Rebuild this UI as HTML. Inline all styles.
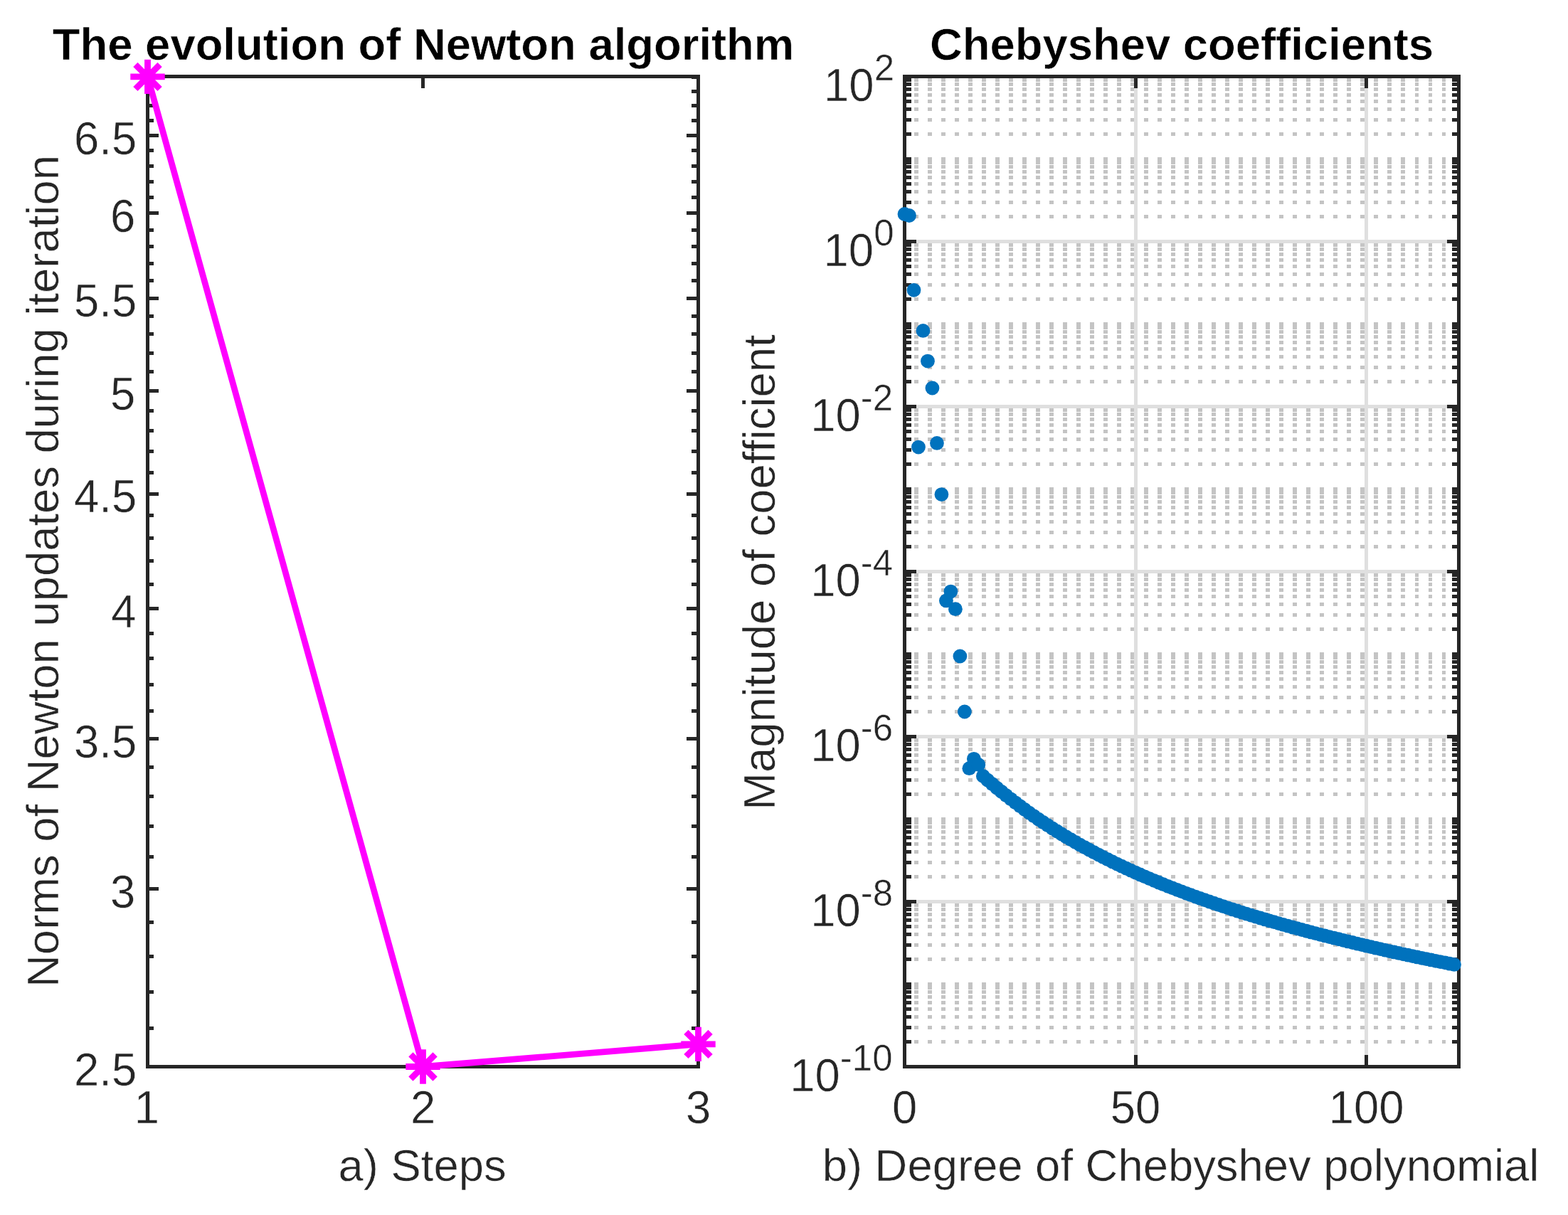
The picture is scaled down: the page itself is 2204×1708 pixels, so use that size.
<!DOCTYPE html>
<html lang="en">
<head>
<meta charset="utf-8">
<title>Newton algorithm and Chebyshev coefficients</title>
<style>
html,body{margin:0;padding:0;background:#fff;}
svg{display:block;}
</style>
</head>
<body>
<svg width="2204" height="1708" viewBox="0 0 2204 1708" font-family="'Liberation Sans', Arial, Helvetica, sans-serif">
<rect x="0" y="0" width="2204" height="1708" fill="#ffffff"/>
<g id="left-axes" shape-rendering="crispEdges">
<rect x="210" y="1497" width="13" height="5" fill="#262626"/>
<rect x="965" y="1497" width="14" height="5" fill="#262626"/>
<rect x="210" y="1247" width="13" height="5" fill="#262626"/>
<rect x="965" y="1247" width="14" height="5" fill="#262626"/>
<rect x="210" y="1036" width="13" height="5" fill="#262626"/>
<rect x="965" y="1036" width="14" height="5" fill="#262626"/>
<rect x="210" y="853" width="13" height="5" fill="#262626"/>
<rect x="965" y="853" width="14" height="5" fill="#262626"/>
<rect x="210" y="692" width="13" height="5" fill="#262626"/>
<rect x="965" y="692" width="14" height="5" fill="#262626"/>
<rect x="210" y="547" width="13" height="5" fill="#262626"/>
<rect x="965" y="547" width="14" height="5" fill="#262626"/>
<rect x="210" y="417" width="13" height="5" fill="#262626"/>
<rect x="965" y="417" width="14" height="5" fill="#262626"/>
<rect x="210" y="297" width="13" height="5" fill="#262626"/>
<rect x="965" y="297" width="14" height="5" fill="#262626"/>
<rect x="210" y="188" width="13" height="5" fill="#262626"/>
<rect x="965" y="188" width="14" height="5" fill="#262626"/>
<rect x="210" y="1443" width="6" height="5" fill="#262626"/>
<rect x="972" y="1443" width="7" height="5" fill="#262626"/>
<rect x="210" y="1392" width="6" height="5" fill="#262626"/>
<rect x="972" y="1392" width="7" height="5" fill="#262626"/>
<rect x="210" y="1342" width="6" height="5" fill="#262626"/>
<rect x="972" y="1342" width="7" height="5" fill="#262626"/>
<rect x="210" y="1294" width="6" height="5" fill="#262626"/>
<rect x="972" y="1294" width="7" height="5" fill="#262626"/>
<rect x="210" y="1202" width="6" height="5" fill="#262626"/>
<rect x="972" y="1202" width="7" height="5" fill="#262626"/>
<rect x="210" y="1159" width="6" height="5" fill="#262626"/>
<rect x="972" y="1159" width="7" height="5" fill="#262626"/>
<rect x="210" y="1117" width="6" height="5" fill="#262626"/>
<rect x="972" y="1117" width="7" height="5" fill="#262626"/>
<rect x="210" y="1076" width="6" height="5" fill="#262626"/>
<rect x="972" y="1076" width="7" height="5" fill="#262626"/>
<rect x="210" y="997" width="6" height="5" fill="#262626"/>
<rect x="972" y="997" width="7" height="5" fill="#262626"/>
<rect x="210" y="960" width="6" height="5" fill="#262626"/>
<rect x="972" y="960" width="7" height="5" fill="#262626"/>
<rect x="210" y="923" width="6" height="5" fill="#262626"/>
<rect x="972" y="923" width="7" height="5" fill="#262626"/>
<rect x="210" y="888" width="6" height="5" fill="#262626"/>
<rect x="972" y="888" width="7" height="5" fill="#262626"/>
<rect x="210" y="819" width="6" height="5" fill="#262626"/>
<rect x="972" y="819" width="7" height="5" fill="#262626"/>
<rect x="210" y="786" width="6" height="5" fill="#262626"/>
<rect x="972" y="786" width="7" height="5" fill="#262626"/>
<rect x="210" y="754" width="6" height="5" fill="#262626"/>
<rect x="972" y="754" width="7" height="5" fill="#262626"/>
<rect x="210" y="722" width="6" height="5" fill="#262626"/>
<rect x="972" y="722" width="7" height="5" fill="#262626"/>
<rect x="210" y="662" width="6" height="5" fill="#262626"/>
<rect x="972" y="662" width="7" height="5" fill="#262626"/>
<rect x="210" y="632" width="6" height="5" fill="#262626"/>
<rect x="972" y="632" width="7" height="5" fill="#262626"/>
<rect x="210" y="603" width="6" height="5" fill="#262626"/>
<rect x="972" y="603" width="7" height="5" fill="#262626"/>
<rect x="210" y="575" width="6" height="5" fill="#262626"/>
<rect x="972" y="575" width="7" height="5" fill="#262626"/>
<rect x="210" y="520" width="6" height="5" fill="#262626"/>
<rect x="972" y="520" width="7" height="5" fill="#262626"/>
<rect x="210" y="494" width="6" height="5" fill="#262626"/>
<rect x="972" y="494" width="7" height="5" fill="#262626"/>
<rect x="210" y="467" width="6" height="5" fill="#262626"/>
<rect x="972" y="467" width="7" height="5" fill="#262626"/>
<rect x="210" y="442" width="6" height="5" fill="#262626"/>
<rect x="972" y="442" width="7" height="5" fill="#262626"/>
<rect x="210" y="392" width="6" height="5" fill="#262626"/>
<rect x="972" y="392" width="7" height="5" fill="#262626"/>
<rect x="210" y="368" width="6" height="5" fill="#262626"/>
<rect x="972" y="368" width="7" height="5" fill="#262626"/>
<rect x="210" y="344" width="6" height="5" fill="#262626"/>
<rect x="972" y="344" width="7" height="5" fill="#262626"/>
<rect x="210" y="321" width="6" height="5" fill="#262626"/>
<rect x="972" y="321" width="7" height="5" fill="#262626"/>
<rect x="210" y="275" width="6" height="5" fill="#262626"/>
<rect x="972" y="275" width="7" height="5" fill="#262626"/>
<rect x="210" y="253" width="6" height="5" fill="#262626"/>
<rect x="972" y="253" width="7" height="5" fill="#262626"/>
<rect x="210" y="231" width="6" height="5" fill="#262626"/>
<rect x="972" y="231" width="7" height="5" fill="#262626"/>
<rect x="210" y="209" width="6" height="5" fill="#262626"/>
<rect x="972" y="209" width="7" height="5" fill="#262626"/>
<rect x="210" y="167" width="6" height="5" fill="#262626"/>
<rect x="972" y="167" width="7" height="5" fill="#262626"/>
<rect x="210" y="146" width="6" height="5" fill="#262626"/>
<rect x="972" y="146" width="7" height="5" fill="#262626"/>
<rect x="210" y="126" width="6" height="5" fill="#262626"/>
<rect x="972" y="126" width="7" height="5" fill="#262626"/>
<rect x="210" y="106" width="6" height="5" fill="#262626"/>
<rect x="972" y="106" width="7" height="5" fill="#262626"/>
<rect x="592" y="110" width="5" height="14" fill="#262626"/>
<rect x="592" y="1483" width="5" height="14" fill="#262626"/>
<rect x="205" y="105" width="779" height="5" fill="#262626"/>
<rect x="205" y="1497" width="779" height="5" fill="#262626"/>
<rect x="205" y="105" width="5" height="1397" fill="#262626"/>
<rect x="979" y="105" width="5" height="1397" fill="#262626"/>
</g>
<g id="left-ticklabels">
<text transform="translate(192.2,1525.7) scale(1.0000,1.0200)" font-size="63.4px" text-anchor="end" fill="#262626" stroke="#ffffff" stroke-width="0.5">2.5</text>
<text transform="translate(190.2,1275.89) scale(1.0000,1.0200)" font-size="63.4px" text-anchor="end" fill="#262626" stroke="#ffffff" stroke-width="0.5">3</text>
<text transform="translate(192.2,1064.69) scale(1.0000,1.0200)" font-size="63.4px" text-anchor="end" fill="#262626" stroke="#ffffff" stroke-width="0.5">3.5</text>
<text transform="translate(191.6,881.73) scale(1.0000,1.0200)" font-size="63.4px" text-anchor="end" fill="#262626" stroke="#ffffff" stroke-width="0.5">4</text>
<text transform="translate(192.2,720.35) scale(1.0000,1.0200)" font-size="63.4px" text-anchor="end" fill="#262626" stroke="#ffffff" stroke-width="0.5">4.5</text>
<text transform="translate(190.2,575.99) scale(1.0000,1.0200)" font-size="63.4px" text-anchor="end" fill="#262626" stroke="#ffffff" stroke-width="0.5">5</text>
<text transform="translate(192.2,445.4) scale(1.0000,1.0200)" font-size="63.4px" text-anchor="end" fill="#262626" stroke="#ffffff" stroke-width="0.5">5.5</text>
<text transform="translate(190.2,326.19) scale(1.0000,1.0200)" font-size="63.4px" text-anchor="end" fill="#262626" stroke="#ffffff" stroke-width="0.5">6</text>
<text transform="translate(192.2,216.52) scale(1.0000,1.0200)" font-size="63.4px" text-anchor="end" fill="#262626" stroke="#ffffff" stroke-width="0.5">6.5</text>
<text transform="translate(206.3,1578.8) scale(1.0000,1.0200)" font-size="63.4px" text-anchor="middle" fill="#262626" stroke="#ffffff" stroke-width="0.5">1</text>
<text transform="translate(594.5,1578.8) scale(1.0000,1.0200)" font-size="63.4px" text-anchor="middle" fill="#262626" stroke="#ffffff" stroke-width="0.5">2</text>
<text transform="translate(981.5,1578.8) scale(1.0000,1.0200)" font-size="63.4px" text-anchor="middle" fill="#262626" stroke="#ffffff" stroke-width="0.5">3</text>
</g>
<text transform="translate(593.6,1659.8)" font-size="63.4px" text-anchor="middle" fill="#262626" stroke="#ffffff" stroke-width="0.5">a) Steps</text>
<text transform="translate(81.5,803) rotate(-90)" font-size="63.4px" text-anchor="middle" fill="#262626" stroke="#ffffff" stroke-width="0.5">Norms of Newton updates during iteration</text>
<text transform="translate(595,84.1)" font-size="63.4px" text-anchor="middle" fill="#000000" stroke="#ffffff" stroke-width="0.5" font-weight="bold">The evolution of Newton algorithm</text>
<g id="left-data">
<polyline fill="none" stroke="#ff00ff" stroke-width="8.8" stroke-linejoin="round" points="207.5,107.9 594.5,1499.5 981.5,1467.9"/>
<path d="M183.3,107.9H231.7M207.5,83.7V132.1M190.39,90.78L224.61,125.01M190.39,125.01L224.61,90.78" stroke="#ff00ff" stroke-width="8.8" fill="none"/>
<path d="M570.3,1499.5H618.7M594.5,1475.3V1523.7M577.39,1482.39L611.61,1516.61M577.39,1516.61L611.61,1482.39" stroke="#ff00ff" stroke-width="8.8" fill="none"/>
<path d="M957.3,1467.9H1005.7M981.5,1443.7V1492.1M964.39,1450.79L998.61,1485.01M964.39,1485.01L998.61,1450.79" stroke="#ff00ff" stroke-width="8.8" fill="none"/>
</g>
<g id="right-grid" shape-rendering="crispEdges">
<defs><g id="dots" stroke="#c4c4c4" stroke-width="5" fill="none"><line x1="1285" y1="2.5" x2="1975" y2="2.5" stroke-dasharray="6 13"/><line x1="1989" y1="2.5" x2="2032" y2="2.5" stroke-dasharray="5 14"/></g></defs>
<use href="#dots" y="1462"/>
<use href="#dots" y="1442"/>
<use href="#dots" y="1427"/>
<use href="#dots" y="1416"/>
<use href="#dots" y="1407"/>
<use href="#dots" y="1399"/>
<use href="#dots" y="1392"/>
<use href="#dots" y="1386"/>
<use href="#dots" y="1381"/>
<use href="#dots" y="1346"/>
<use href="#dots" y="1326"/>
<use href="#dots" y="1311"/>
<use href="#dots" y="1300"/>
<use href="#dots" y="1291"/>
<use href="#dots" y="1283"/>
<use href="#dots" y="1276"/>
<use href="#dots" y="1270"/>
<use href="#dots" y="1230"/>
<use href="#dots" y="1210"/>
<use href="#dots" y="1195"/>
<use href="#dots" y="1184"/>
<use href="#dots" y="1175"/>
<use href="#dots" y="1167"/>
<use href="#dots" y="1160"/>
<use href="#dots" y="1154"/>
<use href="#dots" y="1149"/>
<use href="#dots" y="1114"/>
<use href="#dots" y="1094"/>
<use href="#dots" y="1079"/>
<use href="#dots" y="1068"/>
<use href="#dots" y="1059"/>
<use href="#dots" y="1051"/>
<use href="#dots" y="1044"/>
<use href="#dots" y="1038"/>
<use href="#dots" y="998"/>
<use href="#dots" y="978"/>
<use href="#dots" y="963"/>
<use href="#dots" y="952"/>
<use href="#dots" y="943"/>
<use href="#dots" y="935"/>
<use href="#dots" y="928"/>
<use href="#dots" y="922"/>
<use href="#dots" y="917"/>
<use href="#dots" y="882"/>
<use href="#dots" y="862"/>
<use href="#dots" y="847"/>
<use href="#dots" y="836"/>
<use href="#dots" y="827"/>
<use href="#dots" y="819"/>
<use href="#dots" y="812"/>
<use href="#dots" y="806"/>
<use href="#dots" y="766"/>
<use href="#dots" y="746"/>
<use href="#dots" y="731"/>
<use href="#dots" y="720"/>
<use href="#dots" y="711"/>
<use href="#dots" y="703"/>
<use href="#dots" y="696"/>
<use href="#dots" y="690"/>
<use href="#dots" y="685"/>
<use href="#dots" y="650"/>
<use href="#dots" y="630"/>
<use href="#dots" y="615"/>
<use href="#dots" y="604"/>
<use href="#dots" y="595"/>
<use href="#dots" y="587"/>
<use href="#dots" y="580"/>
<use href="#dots" y="574"/>
<use href="#dots" y="534"/>
<use href="#dots" y="514"/>
<use href="#dots" y="499"/>
<use href="#dots" y="488"/>
<use href="#dots" y="479"/>
<use href="#dots" y="471"/>
<use href="#dots" y="464"/>
<use href="#dots" y="458"/>
<use href="#dots" y="453"/>
<use href="#dots" y="418"/>
<use href="#dots" y="398"/>
<use href="#dots" y="383"/>
<use href="#dots" y="372"/>
<use href="#dots" y="363"/>
<use href="#dots" y="355"/>
<use href="#dots" y="348"/>
<use href="#dots" y="342"/>
<use href="#dots" y="302"/>
<use href="#dots" y="282"/>
<use href="#dots" y="267"/>
<use href="#dots" y="256"/>
<use href="#dots" y="247"/>
<use href="#dots" y="239"/>
<use href="#dots" y="232"/>
<use href="#dots" y="226"/>
<use href="#dots" y="221"/>
<use href="#dots" y="186"/>
<use href="#dots" y="166"/>
<use href="#dots" y="151"/>
<use href="#dots" y="140"/>
<use href="#dots" y="131"/>
<use href="#dots" y="123"/>
<use href="#dots" y="116"/>
<use href="#dots" y="110"/>
<rect x="1274" y="1265" width="774" height="5" fill="#dfdfdf"/>
<rect x="1274" y="1033" width="774" height="5" fill="#dfdfdf"/>
<rect x="1274" y="801" width="774" height="5" fill="#dfdfdf"/>
<rect x="1274" y="569" width="774" height="5" fill="#dfdfdf"/>
<rect x="1274" y="337" width="774" height="5" fill="#dfdfdf"/>
<rect x="1594" y="110" width="5" height="1387" fill="#dfdfdf"/>
<rect x="1918" y="110" width="5" height="1387" fill="#dfdfdf"/>
</g>
<g id="right-axes" shape-rendering="crispEdges">
<rect x="1594" y="110" width="5" height="14" fill="#262626"/>
<rect x="1594" y="1483" width="5" height="14" fill="#262626"/>
<rect x="1918" y="110" width="5" height="14" fill="#262626"/>
<rect x="1918" y="1483" width="5" height="14" fill="#262626"/>
<rect x="1274" y="1497" width="14" height="5" fill="#262626"/>
<rect x="2034" y="1497" width="14" height="5" fill="#262626"/>
<rect x="1274" y="1462" width="7" height="5" fill="#262626"/>
<rect x="2041" y="1462" width="7" height="5" fill="#262626"/>
<rect x="1274" y="1442" width="7" height="5" fill="#262626"/>
<rect x="2041" y="1442" width="7" height="5" fill="#262626"/>
<rect x="1274" y="1427" width="7" height="5" fill="#262626"/>
<rect x="2041" y="1427" width="7" height="5" fill="#262626"/>
<rect x="1274" y="1416" width="7" height="5" fill="#262626"/>
<rect x="2041" y="1416" width="7" height="5" fill="#262626"/>
<rect x="1274" y="1407" width="7" height="5" fill="#262626"/>
<rect x="2041" y="1407" width="7" height="5" fill="#262626"/>
<rect x="1274" y="1399" width="7" height="5" fill="#262626"/>
<rect x="2041" y="1399" width="7" height="5" fill="#262626"/>
<rect x="1274" y="1392" width="7" height="5" fill="#262626"/>
<rect x="2041" y="1392" width="7" height="5" fill="#262626"/>
<rect x="1274" y="1386" width="7" height="5" fill="#262626"/>
<rect x="2041" y="1386" width="7" height="5" fill="#262626"/>
<rect x="1274" y="1381" width="7" height="5" fill="#262626"/>
<rect x="2041" y="1381" width="7" height="5" fill="#262626"/>
<rect x="1274" y="1346" width="7" height="5" fill="#262626"/>
<rect x="2041" y="1346" width="7" height="5" fill="#262626"/>
<rect x="1274" y="1326" width="7" height="5" fill="#262626"/>
<rect x="2041" y="1326" width="7" height="5" fill="#262626"/>
<rect x="1274" y="1311" width="7" height="5" fill="#262626"/>
<rect x="2041" y="1311" width="7" height="5" fill="#262626"/>
<rect x="1274" y="1300" width="7" height="5" fill="#262626"/>
<rect x="2041" y="1300" width="7" height="5" fill="#262626"/>
<rect x="1274" y="1291" width="7" height="5" fill="#262626"/>
<rect x="2041" y="1291" width="7" height="5" fill="#262626"/>
<rect x="1274" y="1283" width="7" height="5" fill="#262626"/>
<rect x="2041" y="1283" width="7" height="5" fill="#262626"/>
<rect x="1274" y="1276" width="7" height="5" fill="#262626"/>
<rect x="2041" y="1276" width="7" height="5" fill="#262626"/>
<rect x="1274" y="1270" width="7" height="5" fill="#262626"/>
<rect x="2041" y="1270" width="7" height="5" fill="#262626"/>
<rect x="1274" y="1265" width="14" height="5" fill="#262626"/>
<rect x="2034" y="1265" width="14" height="5" fill="#262626"/>
<rect x="1274" y="1230" width="7" height="5" fill="#262626"/>
<rect x="2041" y="1230" width="7" height="5" fill="#262626"/>
<rect x="1274" y="1210" width="7" height="5" fill="#262626"/>
<rect x="2041" y="1210" width="7" height="5" fill="#262626"/>
<rect x="1274" y="1195" width="7" height="5" fill="#262626"/>
<rect x="2041" y="1195" width="7" height="5" fill="#262626"/>
<rect x="1274" y="1184" width="7" height="5" fill="#262626"/>
<rect x="2041" y="1184" width="7" height="5" fill="#262626"/>
<rect x="1274" y="1175" width="7" height="5" fill="#262626"/>
<rect x="2041" y="1175" width="7" height="5" fill="#262626"/>
<rect x="1274" y="1167" width="7" height="5" fill="#262626"/>
<rect x="2041" y="1167" width="7" height="5" fill="#262626"/>
<rect x="1274" y="1160" width="7" height="5" fill="#262626"/>
<rect x="2041" y="1160" width="7" height="5" fill="#262626"/>
<rect x="1274" y="1154" width="7" height="5" fill="#262626"/>
<rect x="2041" y="1154" width="7" height="5" fill="#262626"/>
<rect x="1274" y="1149" width="7" height="5" fill="#262626"/>
<rect x="2041" y="1149" width="7" height="5" fill="#262626"/>
<rect x="1274" y="1114" width="7" height="5" fill="#262626"/>
<rect x="2041" y="1114" width="7" height="5" fill="#262626"/>
<rect x="1274" y="1094" width="7" height="5" fill="#262626"/>
<rect x="2041" y="1094" width="7" height="5" fill="#262626"/>
<rect x="1274" y="1079" width="7" height="5" fill="#262626"/>
<rect x="2041" y="1079" width="7" height="5" fill="#262626"/>
<rect x="1274" y="1068" width="7" height="5" fill="#262626"/>
<rect x="2041" y="1068" width="7" height="5" fill="#262626"/>
<rect x="1274" y="1059" width="7" height="5" fill="#262626"/>
<rect x="2041" y="1059" width="7" height="5" fill="#262626"/>
<rect x="1274" y="1051" width="7" height="5" fill="#262626"/>
<rect x="2041" y="1051" width="7" height="5" fill="#262626"/>
<rect x="1274" y="1044" width="7" height="5" fill="#262626"/>
<rect x="2041" y="1044" width="7" height="5" fill="#262626"/>
<rect x="1274" y="1038" width="7" height="5" fill="#262626"/>
<rect x="2041" y="1038" width="7" height="5" fill="#262626"/>
<rect x="1274" y="1033" width="14" height="5" fill="#262626"/>
<rect x="2034" y="1033" width="14" height="5" fill="#262626"/>
<rect x="1274" y="998" width="7" height="5" fill="#262626"/>
<rect x="2041" y="998" width="7" height="5" fill="#262626"/>
<rect x="1274" y="978" width="7" height="5" fill="#262626"/>
<rect x="2041" y="978" width="7" height="5" fill="#262626"/>
<rect x="1274" y="963" width="7" height="5" fill="#262626"/>
<rect x="2041" y="963" width="7" height="5" fill="#262626"/>
<rect x="1274" y="952" width="7" height="5" fill="#262626"/>
<rect x="2041" y="952" width="7" height="5" fill="#262626"/>
<rect x="1274" y="943" width="7" height="5" fill="#262626"/>
<rect x="2041" y="943" width="7" height="5" fill="#262626"/>
<rect x="1274" y="935" width="7" height="5" fill="#262626"/>
<rect x="2041" y="935" width="7" height="5" fill="#262626"/>
<rect x="1274" y="928" width="7" height="5" fill="#262626"/>
<rect x="2041" y="928" width="7" height="5" fill="#262626"/>
<rect x="1274" y="922" width="7" height="5" fill="#262626"/>
<rect x="2041" y="922" width="7" height="5" fill="#262626"/>
<rect x="1274" y="917" width="7" height="5" fill="#262626"/>
<rect x="2041" y="917" width="7" height="5" fill="#262626"/>
<rect x="1274" y="882" width="7" height="5" fill="#262626"/>
<rect x="2041" y="882" width="7" height="5" fill="#262626"/>
<rect x="1274" y="862" width="7" height="5" fill="#262626"/>
<rect x="2041" y="862" width="7" height="5" fill="#262626"/>
<rect x="1274" y="847" width="7" height="5" fill="#262626"/>
<rect x="2041" y="847" width="7" height="5" fill="#262626"/>
<rect x="1274" y="836" width="7" height="5" fill="#262626"/>
<rect x="2041" y="836" width="7" height="5" fill="#262626"/>
<rect x="1274" y="827" width="7" height="5" fill="#262626"/>
<rect x="2041" y="827" width="7" height="5" fill="#262626"/>
<rect x="1274" y="819" width="7" height="5" fill="#262626"/>
<rect x="2041" y="819" width="7" height="5" fill="#262626"/>
<rect x="1274" y="812" width="7" height="5" fill="#262626"/>
<rect x="2041" y="812" width="7" height="5" fill="#262626"/>
<rect x="1274" y="806" width="7" height="5" fill="#262626"/>
<rect x="2041" y="806" width="7" height="5" fill="#262626"/>
<rect x="1274" y="801" width="14" height="5" fill="#262626"/>
<rect x="2034" y="801" width="14" height="5" fill="#262626"/>
<rect x="1274" y="766" width="7" height="5" fill="#262626"/>
<rect x="2041" y="766" width="7" height="5" fill="#262626"/>
<rect x="1274" y="746" width="7" height="5" fill="#262626"/>
<rect x="2041" y="746" width="7" height="5" fill="#262626"/>
<rect x="1274" y="731" width="7" height="5" fill="#262626"/>
<rect x="2041" y="731" width="7" height="5" fill="#262626"/>
<rect x="1274" y="720" width="7" height="5" fill="#262626"/>
<rect x="2041" y="720" width="7" height="5" fill="#262626"/>
<rect x="1274" y="711" width="7" height="5" fill="#262626"/>
<rect x="2041" y="711" width="7" height="5" fill="#262626"/>
<rect x="1274" y="703" width="7" height="5" fill="#262626"/>
<rect x="2041" y="703" width="7" height="5" fill="#262626"/>
<rect x="1274" y="696" width="7" height="5" fill="#262626"/>
<rect x="2041" y="696" width="7" height="5" fill="#262626"/>
<rect x="1274" y="690" width="7" height="5" fill="#262626"/>
<rect x="2041" y="690" width="7" height="5" fill="#262626"/>
<rect x="1274" y="685" width="7" height="5" fill="#262626"/>
<rect x="2041" y="685" width="7" height="5" fill="#262626"/>
<rect x="1274" y="650" width="7" height="5" fill="#262626"/>
<rect x="2041" y="650" width="7" height="5" fill="#262626"/>
<rect x="1274" y="630" width="7" height="5" fill="#262626"/>
<rect x="2041" y="630" width="7" height="5" fill="#262626"/>
<rect x="1274" y="615" width="7" height="5" fill="#262626"/>
<rect x="2041" y="615" width="7" height="5" fill="#262626"/>
<rect x="1274" y="604" width="7" height="5" fill="#262626"/>
<rect x="2041" y="604" width="7" height="5" fill="#262626"/>
<rect x="1274" y="595" width="7" height="5" fill="#262626"/>
<rect x="2041" y="595" width="7" height="5" fill="#262626"/>
<rect x="1274" y="587" width="7" height="5" fill="#262626"/>
<rect x="2041" y="587" width="7" height="5" fill="#262626"/>
<rect x="1274" y="580" width="7" height="5" fill="#262626"/>
<rect x="2041" y="580" width="7" height="5" fill="#262626"/>
<rect x="1274" y="574" width="7" height="5" fill="#262626"/>
<rect x="2041" y="574" width="7" height="5" fill="#262626"/>
<rect x="1274" y="569" width="14" height="5" fill="#262626"/>
<rect x="2034" y="569" width="14" height="5" fill="#262626"/>
<rect x="1274" y="534" width="7" height="5" fill="#262626"/>
<rect x="2041" y="534" width="7" height="5" fill="#262626"/>
<rect x="1274" y="514" width="7" height="5" fill="#262626"/>
<rect x="2041" y="514" width="7" height="5" fill="#262626"/>
<rect x="1274" y="499" width="7" height="5" fill="#262626"/>
<rect x="2041" y="499" width="7" height="5" fill="#262626"/>
<rect x="1274" y="488" width="7" height="5" fill="#262626"/>
<rect x="2041" y="488" width="7" height="5" fill="#262626"/>
<rect x="1274" y="479" width="7" height="5" fill="#262626"/>
<rect x="2041" y="479" width="7" height="5" fill="#262626"/>
<rect x="1274" y="471" width="7" height="5" fill="#262626"/>
<rect x="2041" y="471" width="7" height="5" fill="#262626"/>
<rect x="1274" y="464" width="7" height="5" fill="#262626"/>
<rect x="2041" y="464" width="7" height="5" fill="#262626"/>
<rect x="1274" y="458" width="7" height="5" fill="#262626"/>
<rect x="2041" y="458" width="7" height="5" fill="#262626"/>
<rect x="1274" y="453" width="7" height="5" fill="#262626"/>
<rect x="2041" y="453" width="7" height="5" fill="#262626"/>
<rect x="1274" y="418" width="7" height="5" fill="#262626"/>
<rect x="2041" y="418" width="7" height="5" fill="#262626"/>
<rect x="1274" y="398" width="7" height="5" fill="#262626"/>
<rect x="2041" y="398" width="7" height="5" fill="#262626"/>
<rect x="1274" y="383" width="7" height="5" fill="#262626"/>
<rect x="2041" y="383" width="7" height="5" fill="#262626"/>
<rect x="1274" y="372" width="7" height="5" fill="#262626"/>
<rect x="2041" y="372" width="7" height="5" fill="#262626"/>
<rect x="1274" y="363" width="7" height="5" fill="#262626"/>
<rect x="2041" y="363" width="7" height="5" fill="#262626"/>
<rect x="1274" y="355" width="7" height="5" fill="#262626"/>
<rect x="2041" y="355" width="7" height="5" fill="#262626"/>
<rect x="1274" y="348" width="7" height="5" fill="#262626"/>
<rect x="2041" y="348" width="7" height="5" fill="#262626"/>
<rect x="1274" y="342" width="7" height="5" fill="#262626"/>
<rect x="2041" y="342" width="7" height="5" fill="#262626"/>
<rect x="1274" y="337" width="14" height="5" fill="#262626"/>
<rect x="2034" y="337" width="14" height="5" fill="#262626"/>
<rect x="1274" y="302" width="7" height="5" fill="#262626"/>
<rect x="2041" y="302" width="7" height="5" fill="#262626"/>
<rect x="1274" y="282" width="7" height="5" fill="#262626"/>
<rect x="2041" y="282" width="7" height="5" fill="#262626"/>
<rect x="1274" y="267" width="7" height="5" fill="#262626"/>
<rect x="2041" y="267" width="7" height="5" fill="#262626"/>
<rect x="1274" y="256" width="7" height="5" fill="#262626"/>
<rect x="2041" y="256" width="7" height="5" fill="#262626"/>
<rect x="1274" y="247" width="7" height="5" fill="#262626"/>
<rect x="2041" y="247" width="7" height="5" fill="#262626"/>
<rect x="1274" y="239" width="7" height="5" fill="#262626"/>
<rect x="2041" y="239" width="7" height="5" fill="#262626"/>
<rect x="1274" y="232" width="7" height="5" fill="#262626"/>
<rect x="2041" y="232" width="7" height="5" fill="#262626"/>
<rect x="1274" y="226" width="7" height="5" fill="#262626"/>
<rect x="2041" y="226" width="7" height="5" fill="#262626"/>
<rect x="1274" y="221" width="7" height="5" fill="#262626"/>
<rect x="2041" y="221" width="7" height="5" fill="#262626"/>
<rect x="1274" y="186" width="7" height="5" fill="#262626"/>
<rect x="2041" y="186" width="7" height="5" fill="#262626"/>
<rect x="1274" y="166" width="7" height="5" fill="#262626"/>
<rect x="2041" y="166" width="7" height="5" fill="#262626"/>
<rect x="1274" y="151" width="7" height="5" fill="#262626"/>
<rect x="2041" y="151" width="7" height="5" fill="#262626"/>
<rect x="1274" y="140" width="7" height="5" fill="#262626"/>
<rect x="2041" y="140" width="7" height="5" fill="#262626"/>
<rect x="1274" y="131" width="7" height="5" fill="#262626"/>
<rect x="2041" y="131" width="7" height="5" fill="#262626"/>
<rect x="1274" y="123" width="7" height="5" fill="#262626"/>
<rect x="2041" y="123" width="7" height="5" fill="#262626"/>
<rect x="1274" y="116" width="7" height="5" fill="#262626"/>
<rect x="2041" y="116" width="7" height="5" fill="#262626"/>
<rect x="1274" y="110" width="7" height="5" fill="#262626"/>
<rect x="2041" y="110" width="7" height="5" fill="#262626"/>
<rect x="1274" y="105" width="14" height="5" fill="#262626"/>
<rect x="2034" y="105" width="14" height="5" fill="#262626"/>
<rect x="1269" y="105" width="784" height="5" fill="#262626"/>
<rect x="1269" y="1497" width="784" height="5" fill="#262626"/>
<rect x="1269" y="105" width="5" height="1397" fill="#262626"/>
<rect x="2048" y="105" width="5" height="1397" fill="#262626"/>
</g>
<g id="right-ticklabels">
<text transform="translate(1254.5,1533.9) scale(1.0000,1.0200)" font-size="63.4px" text-anchor="end" fill="#262626" stroke="#ffffff" stroke-width="0.5">10<tspan font-size="51px" dy="-28.4" dx="0">-10</tspan></text>
<text transform="translate(1255,1301.9) scale(1.0000,1.0200)" font-size="63.4px" text-anchor="end" fill="#262626" stroke="#ffffff" stroke-width="0.5">10<tspan font-size="51px" dy="-28.4" dx="0">-8</tspan></text>
<text transform="translate(1255,1069.9) scale(1.0000,1.0200)" font-size="63.4px" text-anchor="end" fill="#262626" stroke="#ffffff" stroke-width="0.5">10<tspan font-size="51px" dy="-28.4" dx="0">-6</tspan></text>
<text transform="translate(1255,837.9) scale(1.0000,1.0200)" font-size="63.4px" text-anchor="end" fill="#262626" stroke="#ffffff" stroke-width="0.5">10<tspan font-size="51px" dy="-28.4" dx="0">-4</tspan></text>
<text transform="translate(1255,605.9) scale(1.0000,1.0200)" font-size="63.4px" text-anchor="end" fill="#262626" stroke="#ffffff" stroke-width="0.5">10<tspan font-size="51px" dy="-28.4" dx="0">-2</tspan></text>
<text transform="translate(1256.5,373.9) scale(1.0000,1.0200)" font-size="63.4px" text-anchor="end" fill="#262626" stroke="#ffffff" stroke-width="0.5">10<tspan font-size="51px" dy="-28.4" dx="0">0</tspan></text>
<text transform="translate(1257,141.9) scale(1.0000,1.0200)" font-size="63.4px" text-anchor="end" fill="#262626" stroke="#ffffff" stroke-width="0.5">10<tspan font-size="51px" dy="-28.4" dx="0">2</tspan></text>
<text transform="translate(1271.5,1578.8) scale(1.0000,1.0200)" font-size="63.4px" text-anchor="middle" fill="#262626" stroke="#ffffff" stroke-width="0.5">0</text>
<text transform="translate(1596.08,1578.8) scale(1.0000,1.0200)" font-size="63.4px" text-anchor="middle" fill="#262626" stroke="#ffffff" stroke-width="0.5">50</text>
<text transform="translate(1920.67,1578.8) scale(1.0000,1.0200)" font-size="63.4px" text-anchor="middle" fill="#262626" stroke="#ffffff" stroke-width="0.5">100</text>
</g>
<text transform="translate(1659.5,1659.8)" font-size="63.4px" text-anchor="middle" fill="#262626" stroke="#ffffff" stroke-width="0.5">b) Degree of Chebyshev polynomial</text>
<text transform="translate(1089,804.5) rotate(-90)" font-size="63.4px" text-anchor="middle" fill="#262626" stroke="#ffffff" stroke-width="0.5">Magnitude of coefficient</text>
<text transform="translate(1661,84.1)" font-size="63.4px" text-anchor="middle" fill="#000000" stroke="#ffffff" stroke-width="0.5" font-weight="bold">Chebyshev coefficients</text>
<g id="right-data" fill="#0072bd">
<circle cx="1271.5" cy="301" r="9.9"/>
<circle cx="1277.99" cy="303" r="9.9"/>
<circle cx="1284.48" cy="407.8" r="9.9"/>
<circle cx="1290.97" cy="628.6" r="9.9"/>
<circle cx="1297.47" cy="464.9" r="9.9"/>
<circle cx="1303.96" cy="507.6" r="9.9"/>
<circle cx="1310.45" cy="545.5" r="9.9"/>
<circle cx="1316.94" cy="622.9" r="9.9"/>
<circle cx="1323.43" cy="695.1" r="9.9"/>
<circle cx="1329.92" cy="844.4" r="9.9"/>
<circle cx="1336.42" cy="831.6" r="9.9"/>
<circle cx="1342.91" cy="856.2" r="9.9"/>
<circle cx="1349.4" cy="922.5" r="9.9"/>
<circle cx="1355.89" cy="1000.5" r="9.9"/>
<circle cx="1362.38" cy="1080.2" r="9.9"/>
<circle cx="1368.88" cy="1066.8" r="9.9"/>
<circle cx="1375.37" cy="1074.9" r="9.9"/>
<circle cx="1381.86" cy="1090.98" r="9.9"/>
<circle cx="1388.35" cy="1096.65" r="9.9"/>
<circle cx="1394.84" cy="1102.22" r="9.9"/>
<circle cx="1401.33" cy="1107.68" r="9.9"/>
<circle cx="1407.83" cy="1113.02" r="9.9"/>
<circle cx="1414.32" cy="1118.24" r="9.9"/>
<circle cx="1420.81" cy="1123.35" r="9.9"/>
<circle cx="1427.3" cy="1128.34" r="9.9"/>
<circle cx="1433.79" cy="1133.22" r="9.9"/>
<circle cx="1440.28" cy="1137.98" r="9.9"/>
<circle cx="1446.78" cy="1142.64" r="9.9"/>
<circle cx="1453.27" cy="1147.2" r="9.9"/>
<circle cx="1459.76" cy="1151.65" r="9.9"/>
<circle cx="1466.25" cy="1156.01" r="9.9"/>
<circle cx="1472.74" cy="1160.27" r="9.9"/>
<circle cx="1479.23" cy="1164.43" r="9.9"/>
<circle cx="1485.72" cy="1168.51" r="9.9"/>
<circle cx="1492.22" cy="1172.5" r="9.9"/>
<circle cx="1498.71" cy="1176.41" r="9.9"/>
<circle cx="1505.2" cy="1180.23" r="9.9"/>
<circle cx="1511.69" cy="1183.98" r="9.9"/>
<circle cx="1518.18" cy="1187.65" r="9.9"/>
<circle cx="1524.67" cy="1191.25" r="9.9"/>
<circle cx="1531.17" cy="1194.77" r="9.9"/>
<circle cx="1537.66" cy="1198.23" r="9.9"/>
<circle cx="1544.15" cy="1201.62" r="9.9"/>
<circle cx="1550.64" cy="1204.95" r="9.9"/>
<circle cx="1557.13" cy="1208.21" r="9.9"/>
<circle cx="1563.62" cy="1211.42" r="9.9"/>
<circle cx="1570.12" cy="1214.56" r="9.9"/>
<circle cx="1576.61" cy="1217.65" r="9.9"/>
<circle cx="1583.1" cy="1220.69" r="9.9"/>
<circle cx="1589.59" cy="1223.67" r="9.9"/>
<circle cx="1596.08" cy="1226.6" r="9.9"/>
<circle cx="1602.58" cy="1229.48" r="9.9"/>
<circle cx="1609.07" cy="1232.31" r="9.9"/>
<circle cx="1615.56" cy="1235.09" r="9.9"/>
<circle cx="1622.05" cy="1237.83" r="9.9"/>
<circle cx="1628.54" cy="1240.52" r="9.9"/>
<circle cx="1635.03" cy="1243.17" r="9.9"/>
<circle cx="1641.53" cy="1245.78" r="9.9"/>
<circle cx="1648.02" cy="1248.34" r="9.9"/>
<circle cx="1654.51" cy="1250.87" r="9.9"/>
<circle cx="1661" cy="1253.35" r="9.9"/>
<circle cx="1667.49" cy="1255.8" r="9.9"/>
<circle cx="1673.98" cy="1258.21" r="9.9"/>
<circle cx="1680.47" cy="1260.59" r="9.9"/>
<circle cx="1686.97" cy="1262.93" r="9.9"/>
<circle cx="1693.46" cy="1265.23" r="9.9"/>
<circle cx="1699.95" cy="1267.51" r="9.9"/>
<circle cx="1706.44" cy="1269.75" r="9.9"/>
<circle cx="1712.93" cy="1271.95" r="9.9"/>
<circle cx="1719.42" cy="1274.13" r="9.9"/>
<circle cx="1725.92" cy="1276.28" r="9.9"/>
<circle cx="1732.41" cy="1278.4" r="9.9"/>
<circle cx="1738.9" cy="1280.48" r="9.9"/>
<circle cx="1745.39" cy="1282.54" r="9.9"/>
<circle cx="1751.88" cy="1284.58" r="9.9"/>
<circle cx="1758.38" cy="1286.58" r="9.9"/>
<circle cx="1764.87" cy="1288.56" r="9.9"/>
<circle cx="1771.36" cy="1290.51" r="9.9"/>
<circle cx="1777.85" cy="1292.44" r="9.9"/>
<circle cx="1784.34" cy="1294.34" r="9.9"/>
<circle cx="1790.83" cy="1296.22" r="9.9"/>
<circle cx="1797.33" cy="1298.08" r="9.9"/>
<circle cx="1803.82" cy="1299.91" r="9.9"/>
<circle cx="1810.31" cy="1301.72" r="9.9"/>
<circle cx="1816.8" cy="1303.51" r="9.9"/>
<circle cx="1823.29" cy="1305.27" r="9.9"/>
<circle cx="1829.78" cy="1307.02" r="9.9"/>
<circle cx="1836.28" cy="1308.74" r="9.9"/>
<circle cx="1842.77" cy="1310.45" r="9.9"/>
<circle cx="1849.26" cy="1312.13" r="9.9"/>
<circle cx="1855.75" cy="1313.79" r="9.9"/>
<circle cx="1862.24" cy="1315.44" r="9.9"/>
<circle cx="1868.73" cy="1317.06" r="9.9"/>
<circle cx="1875.22" cy="1318.67" r="9.9"/>
<circle cx="1881.72" cy="1320.26" r="9.9"/>
<circle cx="1888.21" cy="1321.83" r="9.9"/>
<circle cx="1894.7" cy="1323.42" r="9.9"/>
<circle cx="1901.19" cy="1325" r="9.9"/>
<circle cx="1907.68" cy="1326.56" r="9.9"/>
<circle cx="1914.17" cy="1328.1" r="9.9"/>
<circle cx="1920.67" cy="1329.63" r="9.9"/>
<circle cx="1927.16" cy="1331.14" r="9.9"/>
<circle cx="1933.65" cy="1332.64" r="9.9"/>
<circle cx="1940.14" cy="1334.12" r="9.9"/>
<circle cx="1946.63" cy="1335.59" r="9.9"/>
<circle cx="1953.12" cy="1337.04" r="9.9"/>
<circle cx="1959.62" cy="1338.47" r="9.9"/>
<circle cx="1966.11" cy="1339.89" r="9.9"/>
<circle cx="1972.6" cy="1341.3" r="9.9"/>
<circle cx="1979.09" cy="1342.7" r="9.9"/>
<circle cx="1985.58" cy="1344.08" r="9.9"/>
<circle cx="1992.08" cy="1345.44" r="9.9"/>
<circle cx="1998.57" cy="1346.79" r="9.9"/>
<circle cx="2005.06" cy="1348.13" r="9.9"/>
<circle cx="2011.55" cy="1349.46" r="9.9"/>
<circle cx="2018.04" cy="1350.78" r="9.9"/>
<circle cx="2024.53" cy="1352.08" r="9.9"/>
<circle cx="2031.03" cy="1353.37" r="9.9"/>
<circle cx="2037.52" cy="1354.65" r="9.9"/>
<circle cx="2044.01" cy="1355.91" r="9.9"/>
</g>
</svg>
</body>
</html>
